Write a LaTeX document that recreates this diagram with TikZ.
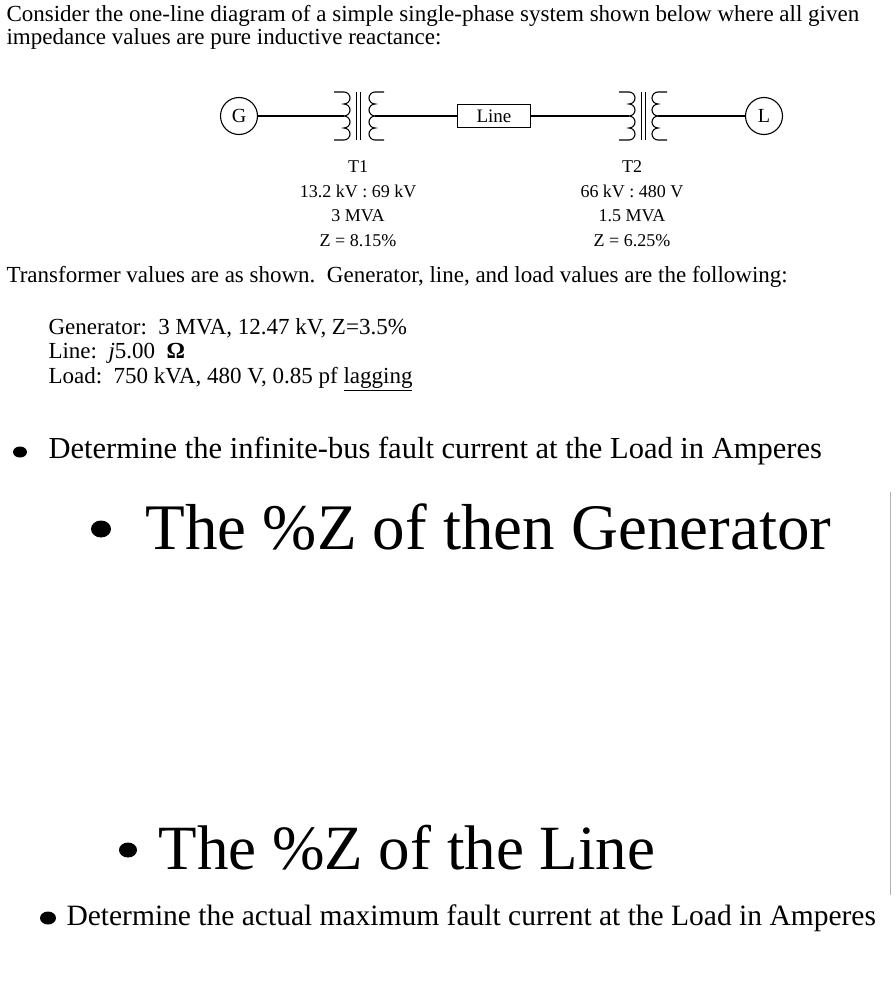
\documentclass[tikz,border=0pt]{standalone}
\usepackage{fontspec}
\setmainfont{Liberation Serif}
\begin{document}
\begin{tikzpicture}[x=1pt,y=1pt,line width=1.1pt,
  mach/.style={draw,circle,minimum size=37pt,inner sep=0pt,font=\fontsize{20}{20}\selectfont},
  lbl/.style={font=\fontsize{18}{24.5}\selectfont,align=center,anchor=north},
  txt/.style={anchor=west,font=\fontsize{23}{24}\selectfont,inner sep=0pt}]
\useasboundingbox (0,0) rectangle (896,-982);
\node[txt,align=left,anchor=north west] (intro) at (6,-5) {Consider the one-line diagram of a simple single-phase system shown below where all given\\[-1pt]impedance values are pure inductive reactance:};
\node[mach] (G) at (239,-116) {G};
\node[mach] (L) at (764,-116) {L};
\node[draw,minimum width=73pt,minimum height=23pt,inner sep=0pt,font=\fontsize{19}{19}\selectfont] (ln) at (494,-116) {Line};
% T1
\coordinate (t1a) at (344,-116); \coordinate (t1b) at (375,-116);
\draw (334,-92) -- (344,-92) arc(90:-90:6) arc(90:-90:6) arc(90:-90:6) arc(90:-90:6) -- (334,-140);
\draw (384,-92) -- (375,-92) arc(90:270:6) arc(90:270:6) arc(90:270:6) arc(90:270:6) -- (384,-140);
\draw[line width=0.8pt] (356,-92) -- (356,-140) (360,-92) -- (360,-140);
% T2
\coordinate (t2a) at (629,-116); \coordinate (t2b) at (658,-116);
\draw (619,-92) -- (629,-92) arc(90:-90:6) arc(90:-90:6) arc(90:-90:6) arc(90:-90:6) -- (619,-140);
\draw (667,-92) -- (658,-92) arc(90:270:6) arc(90:270:6) arc(90:270:6) arc(90:270:6) -- (667,-140);
\draw[line width=0.8pt] (641,-92) -- (641,-140) (645,-92) -- (645,-140);
\draw (G) -- (t1a); \draw (t1b) -- (ln); \draw (ln) -- (t2a); \draw (t2b) -- (L);
\node[lbl] (l1) at (358,-157) {T1\\13.2 kV : 69 kV\\3 MVA\\Z = 8.15\%};
\node[lbl] (l2) at (632,-157) {T2\\66 kV : 480 V\\1.5 MVA\\Z = 6.25\%};
\node[txt] (tv) at (6,-277) {Transformer values are as shown.\ \ Generator, line, and load values are the following:};
\node[txt] (g) at (48,-328) {Generator:\ \ 3 MVA, 12.47 kV, Z=3.5\%};
\node[txt] (li) at (48,-353) {Line:\ \ \textit{j}5.00\ \ \textbf{Ω}};
\node[txt] (lo) at (48,-379) {Load:\ \ 750 kVA, 480 V, 0.85 pf \underline{lagging}};
\fill (20,-452) ellipse (7pt and 5.5pt);
\node[txt,font=\fontsize{30.5}{32}\selectfont] (b1) at (48,-451) {Determine the infinite-bus fault current at the Load in Amperes};
\fill (101,-529) ellipse (10pt and 8.5pt);
\node[txt,font=\fontsize{65}{66}\selectfont] (b2) at (145,-527) {The \%Z of then Generator};
\fill (128,-850) ellipse (9pt and 7.5pt);
\node[txt,font=\fontsize{63}{64}\selectfont] (b3) at (158,-848) {The \%Z of the Line};
\fill (48,-918) ellipse (8pt and 6.5pt);
\node[txt,font=\fontsize{29.5}{30}\selectfont] (b4) at (66,-918) {Determine the actual maximum fault current at the Load in Amperes};
\draw[gray!60,line width=0.6pt] (890,-492) -- (890,-895);
\end{tikzpicture}
\end{document}
